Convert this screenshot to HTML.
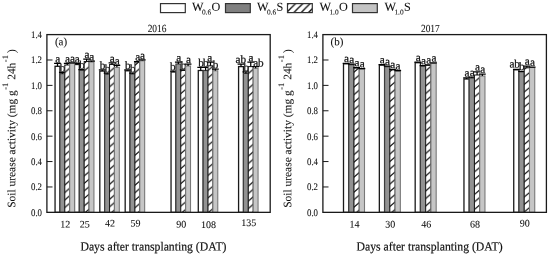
<!DOCTYPE html>
<html lang="en"><head><meta charset="utf-8"><title>Soil urease activity</title>
<style>html,body{margin:0;padding:0;background:#fff}svg{display:block}text{stroke:#111;stroke-width:.08px}text.b{stroke-width:.25px}text.m{stroke-width:.18px}</style></head>
<body>
<svg width="550" height="256" viewBox="0 0 550 256" font-family='"Liberation Serif", "DejaVu Serif", serif' fill="#111">
<defs><pattern id="hatchL" patternUnits="userSpaceOnUse" width="8.8" height="7.5" patternTransform="translate(0 0.2)"><rect width="8.8" height="7.5" fill="#fff"/><path d="M-2.20 9.38L11.00 -1.88M-2.20 1.88L2.20 -1.88M6.60 9.38L11.00 5.62" stroke="#000" stroke-width="1.15"/></pattern></defs>
<defs><pattern id="hatchR" patternUnits="userSpaceOnUse" width="8.8" height="7.5" patternTransform="translate(0 -1.2)"><rect width="8.8" height="7.5" fill="#fff"/><path d="M-2.20 9.38L11.00 -1.88M-2.20 1.88L2.20 -1.88M6.60 9.38L11.00 5.62" stroke="#000" stroke-width="1.15"/></pattern></defs>
<rect width="550" height="256" fill="#fff"/>
<defs><pattern id="hatch2" patternUnits="userSpaceOnUse" width="7.3" height="7.3" patternTransform="translate(-0.2 0)"><rect width="7.3" height="7.3" fill="#fff"/><path d="M-1.8 9.1L9.1 -1.8M-1.8 1.8L1.8 -1.8M5.5 9.1L9.1 5.5" stroke="#111" stroke-width="1.3"/></pattern></defs>
<rect x="160.5" y="3.6" width="24.8" height="9" fill="#fff" stroke="#333" stroke-width="1.2"/>
<text x="192" y="10.7" font-size="12.2" transform="rotate(0.03 192 10.7)">W<tspan font-size="7.4" dy="3.8" dx="-1.6">0.6</tspan><tspan dy="-3.8" dx="0.3">O</tspan></text>
<rect x="225.5" y="3.6" width="24.8" height="9" fill="#808080" stroke="#333" stroke-width="1.2"/>
<text x="257" y="10.7" font-size="12.2" transform="rotate(0.03 257 10.7)">W<tspan font-size="7.4" dy="3.8" dx="-1.6">0.6</tspan><tspan dy="-3.8" dx="0.3">S</tspan></text>
<rect x="287.5" y="3.6" width="24.8" height="9" fill="url(#hatch2)" stroke="#333" stroke-width="1.2"/>
<text x="319.5" y="10.7" font-size="12.2" transform="rotate(0.03 319.5 10.7)">W<tspan font-size="7.4" dy="3.8" dx="-1.6">1.0</tspan><tspan dy="-3.8" dx="0.3">O</tspan></text>
<rect x="352.5" y="3.6" width="24.8" height="9" fill="#c4c4c4" stroke="#333" stroke-width="1.2"/>
<text x="384.5" y="10.7" font-size="12.2" transform="rotate(0.03 384.5 10.7)">W<tspan font-size="7.4" dy="3.8" dx="-1.6">1.0</tspan><tspan dy="-3.8" dx="0.3">S</tspan></text>
<rect x="55.06" y="66.30" width="4.87" height="146.05" fill="#fff" stroke="#1a1a1a" stroke-width="1.3"/>
<path d="M57.49 66.30V63.40M54.09 63.40H60.89" stroke="#000" stroke-width="1.25" fill="none"/>
<text x="57.79" y="62.50" font-size="11.2" text-anchor="middle" transform="rotate(0.03 57.79 62.50)" class="b">a</text>
<rect x="74.46" y="64.50" width="4.87" height="147.85" fill="#fff" stroke="#1a1a1a" stroke-width="1.3"/>
<path d="M76.89 64.50V63.40M73.49 63.40H80.29" stroke="#000" stroke-width="1.25" fill="none"/>
<text x="77.19" y="62.50" font-size="11.2" text-anchor="middle" transform="rotate(0.03 77.19 62.50)" class="b">a</text>
<rect x="99.82" y="71.10" width="4.87" height="141.25" fill="#fff" stroke="#1a1a1a" stroke-width="1.3"/>
<path d="M102.26 71.10V69.80M98.86 69.80H105.66" stroke="#000" stroke-width="1.25" fill="none"/>
<text x="102.56" y="68.90" font-size="11.2" text-anchor="middle" transform="rotate(0.03 102.56 68.90)" class="b">b</text>
<rect x="125.18" y="70.80" width="4.87" height="141.55" fill="#fff" stroke="#1a1a1a" stroke-width="1.3"/>
<path d="M127.62 70.80V69.80M124.22 69.80H131.02" stroke="#000" stroke-width="1.25" fill="none"/>
<text x="127.92" y="68.90" font-size="11.2" text-anchor="middle" transform="rotate(0.03 127.92 68.90)" class="b">b</text>
<rect x="171.04" y="72.00" width="4.87" height="140.35" fill="#fff" stroke="#1a1a1a" stroke-width="1.3"/>
<path d="M173.47 72.00V71.10M170.07 71.10H176.87" stroke="#000" stroke-width="1.25" fill="none"/>
<text x="172.87" y="70.20" font-size="11.2" text-anchor="middle" transform="rotate(0.03 172.87 70.20)" class="b">b</text>
<rect x="198.29" y="70.50" width="4.87" height="141.85" fill="#fff" stroke="#1a1a1a" stroke-width="1.3"/>
<path d="M200.73 70.50V67.30M197.33 67.30H204.13" stroke="#000" stroke-width="1.25" fill="none"/>
<text x="201.03" y="66.40" font-size="11.2" text-anchor="middle" transform="rotate(0.03 201.03 66.40)" class="b">b</text>
<rect x="238.58" y="66.60" width="4.87" height="145.75" fill="#fff" stroke="#1a1a1a" stroke-width="1.3"/>
<path d="M241.01 66.60V64.00M237.61 64.00H244.41" stroke="#000" stroke-width="1.25" fill="none"/>
<text x="240.81" y="63.10" font-size="11.2" text-anchor="middle" transform="rotate(0.03 240.81 63.10)" class="b">ab</text>
<rect x="59.93" y="73.70" width="4.87" height="138.65" fill="#929292" stroke="#3e3e3e" stroke-width="1.15"/>
<path d="M62.36 73.70V72.40M58.96 72.40H65.77" stroke="#000" stroke-width="1.25" fill="none"/>
<text x="62.66" y="71.50" font-size="11.2" text-anchor="middle" transform="rotate(0.03 62.66 71.50)" class="b">b</text>
<rect x="79.33" y="70.20" width="4.87" height="142.15" fill="#929292" stroke="#3e3e3e" stroke-width="1.15"/>
<path d="M81.76 70.20V69.50M78.36 69.50H85.16" stroke="#000" stroke-width="1.25" fill="none"/>
<text x="82.06" y="68.60" font-size="11.2" text-anchor="middle" transform="rotate(0.03 82.06 68.60)" class="b">b</text>
<rect x="104.69" y="74.20" width="4.87" height="138.15" fill="#929292" stroke="#3e3e3e" stroke-width="1.15"/>
<path d="M107.13 74.20V73.10M103.73 73.10H110.53" stroke="#000" stroke-width="1.25" fill="none"/>
<text x="107.43" y="72.20" font-size="11.2" text-anchor="middle" transform="rotate(0.03 107.43 72.20)" class="b">b</text>
<rect x="130.05" y="74.00" width="4.87" height="138.35" fill="#929292" stroke="#3e3e3e" stroke-width="1.15"/>
<path d="M132.49 74.00V73.10M129.09 73.10H135.89" stroke="#000" stroke-width="1.25" fill="none"/>
<text x="132.79" y="72.20" font-size="11.2" text-anchor="middle" transform="rotate(0.03 132.79 72.20)" class="b">b</text>
<rect x="175.91" y="64.00" width="4.87" height="148.35" fill="#929292" stroke="#3e3e3e" stroke-width="1.15"/>
<path d="M178.34 64.00V62.10M174.94 62.10H181.74" stroke="#000" stroke-width="1.25" fill="none"/>
<text x="178.64" y="61.20" font-size="11.2" text-anchor="middle" transform="rotate(0.03 178.64 61.20)" class="b">a</text>
<rect x="203.16" y="70.50" width="4.87" height="141.85" fill="#929292" stroke="#3e3e3e" stroke-width="1.15"/>
<path d="M205.60 70.50V67.40M202.20 67.40H209.00" stroke="#000" stroke-width="1.25" fill="none"/>
<text x="205.90" y="66.50" font-size="11.2" text-anchor="middle" transform="rotate(0.03 205.90 66.50)" class="b">b</text>
<rect x="243.45" y="73.40" width="4.87" height="138.95" fill="#929292" stroke="#3e3e3e" stroke-width="1.15"/>
<path d="M245.88 73.40V71.80M242.48 71.80H249.28" stroke="#000" stroke-width="1.25" fill="none"/>
<text x="246.18" y="70.90" font-size="11.2" text-anchor="middle" transform="rotate(0.03 246.18 70.90)" class="b">b</text>
<rect x="64.80" y="65.00" width="4.87" height="147.35" fill="url(#hatchL)" stroke="#1a1a1a" stroke-width="1.0"/>
<path d="M67.23 65.00V63.40M63.84 63.40H70.64" stroke="#000" stroke-width="1.25" fill="none"/>
<text x="67.53" y="62.50" font-size="11.2" text-anchor="middle" transform="rotate(0.03 67.53 62.50)" class="b">a</text>
<rect x="84.20" y="61.50" width="4.87" height="150.85" fill="url(#hatchL)" stroke="#1a1a1a" stroke-width="1.0"/>
<path d="M86.63 61.50V59.00M83.23 59.00H90.03" stroke="#000" stroke-width="1.25" fill="none"/>
<text x="86.93" y="58.10" font-size="11.2" text-anchor="middle" transform="rotate(0.03 86.93 58.10)" class="b">a</text>
<rect x="109.56" y="64.50" width="4.87" height="147.85" fill="url(#hatchL)" stroke="#1a1a1a" stroke-width="1.0"/>
<path d="M112.00 64.50V62.80M108.59 62.80H115.40" stroke="#000" stroke-width="1.25" fill="none"/>
<text x="112.30" y="61.90" font-size="11.2" text-anchor="middle" transform="rotate(0.03 112.30 61.90)" class="b">a</text>
<rect x="134.92" y="62.00" width="4.87" height="150.35" fill="url(#hatchL)" stroke="#1a1a1a" stroke-width="1.0"/>
<path d="M137.36 62.00V61.50M133.96 61.50H140.76" stroke="#000" stroke-width="1.25" fill="none"/>
<text x="137.66" y="60.60" font-size="11.2" text-anchor="middle" transform="rotate(0.03 137.66 60.60)" class="b">a</text>
<rect x="180.78" y="70.50" width="4.87" height="141.85" fill="url(#hatchL)" stroke="#1a1a1a" stroke-width="1.0"/>
<path d="M183.21 70.50V69.80M179.81 69.80H186.61" stroke="#000" stroke-width="1.25" fill="none"/>
<text x="183.51" y="68.90" font-size="11.2" text-anchor="middle" transform="rotate(0.03 183.51 68.90)" class="b">b</text>
<rect x="208.03" y="65.80" width="4.87" height="146.55" fill="url(#hatchL)" stroke="#1a1a1a" stroke-width="1.0"/>
<path d="M210.47 65.80V62.10M207.07 62.10H213.87" stroke="#000" stroke-width="1.25" fill="none"/>
<text x="209.77" y="61.20" font-size="11.2" text-anchor="middle" transform="rotate(0.03 209.77 61.20)" class="b">a</text>
<rect x="248.32" y="66.60" width="4.87" height="145.75" fill="url(#hatchL)" stroke="#1a1a1a" stroke-width="1.0"/>
<path d="M250.75 66.60V62.10M247.35 62.10H254.15" stroke="#000" stroke-width="1.25" fill="none"/>
<text x="251.05" y="61.20" font-size="11.2" text-anchor="middle" transform="rotate(0.03 251.05 61.20)" class="b">a</text>
<rect x="69.67" y="63.30" width="4.87" height="149.05" fill="#c6c6c6" stroke="#787878" stroke-width="1.1"/>
<path d="M72.10 63.30V62.80M68.70 62.80H75.50" stroke="#000" stroke-width="1.25" fill="none"/>
<text x="72.40" y="61.90" font-size="11.2" text-anchor="middle" transform="rotate(0.03 72.40 61.90)" class="b">a</text>
<rect x="89.07" y="62.00" width="4.87" height="150.35" fill="#c6c6c6" stroke="#787878" stroke-width="1.1"/>
<path d="M91.50 62.00V61.20M88.10 61.20H94.90" stroke="#000" stroke-width="1.25" fill="none"/>
<text x="91.80" y="60.30" font-size="11.2" text-anchor="middle" transform="rotate(0.03 91.80 60.30)" class="b">a</text>
<rect x="114.43" y="67.30" width="4.87" height="145.05" fill="#c6c6c6" stroke="#787878" stroke-width="1.1"/>
<path d="M116.87 67.30V65.30M113.47 65.30H120.27" stroke="#000" stroke-width="1.25" fill="none"/>
<text x="117.17" y="64.40" font-size="11.2" text-anchor="middle" transform="rotate(0.03 117.17 64.40)" class="b">a</text>
<rect x="139.79" y="60.80" width="4.87" height="151.55" fill="#c6c6c6" stroke="#787878" stroke-width="1.1"/>
<path d="M142.23 60.80V59.90M138.83 59.90H145.63" stroke="#000" stroke-width="1.25" fill="none"/>
<text x="142.53" y="59.00" font-size="11.2" text-anchor="middle" transform="rotate(0.03 142.53 59.00)" class="b">a</text>
<rect x="185.65" y="66.00" width="4.87" height="146.35" fill="#c6c6c6" stroke="#787878" stroke-width="1.1"/>
<path d="M188.08 66.00V64.00M184.68 64.00H191.48" stroke="#000" stroke-width="1.25" fill="none"/>
<text x="188.38" y="63.10" font-size="11.2" text-anchor="middle" transform="rotate(0.03 188.38 63.10)" class="b">a</text>
<rect x="212.90" y="70.80" width="4.87" height="141.55" fill="#c6c6c6" stroke="#787878" stroke-width="1.1"/>
<path d="M215.34 70.80V69.20M211.94 69.20H218.74" stroke="#000" stroke-width="1.25" fill="none"/>
<text x="215.64" y="68.30" font-size="11.2" text-anchor="middle" transform="rotate(0.03 215.64 68.30)" class="b">b</text>
<rect x="253.19" y="68.30" width="4.87" height="144.05" fill="#c6c6c6" stroke="#787878" stroke-width="1.1"/>
<path d="M255.62 68.30V66.60M252.22 66.60H259.02" stroke="#000" stroke-width="1.25" fill="none"/>
<text x="258.42" y="66.50" font-size="11.2" text-anchor="middle" transform="rotate(0.03 258.42 66.50)" class="b">ab</text>
<text x="65.30" y="227.50" font-size="10" text-anchor="middle" transform="rotate(0.03 65.30 227.50)" >12</text>
<text x="84.70" y="227.50" font-size="10" text-anchor="middle" transform="rotate(0.03 84.70 227.50)" >25</text>
<text x="110.06" y="226.50" font-size="10" text-anchor="middle" transform="rotate(0.03 110.06 226.50)" >42</text>
<text x="135.42" y="226.50" font-size="10" text-anchor="middle" transform="rotate(0.03 135.42 226.50)" >59</text>
<text x="181.28" y="227.50" font-size="10" text-anchor="middle" transform="rotate(0.03 181.28 227.50)" >90</text>
<text x="208.53" y="228.00" font-size="10" text-anchor="middle" transform="rotate(0.03 208.53 228.00)" >108</text>
<text x="248.82" y="226.00" font-size="10" text-anchor="middle" transform="rotate(0.03 248.82 226.00)" >135</text>
<rect x="46.9" y="34.6" width="223.30" height="177.75" fill="none" stroke="#1a1a1a" stroke-width="1.3"/>
<text x="42.00" y="215.85" font-size="10" text-anchor="end" transform="rotate(0.03 42.00 215.85)" textLength="11" lengthAdjust="spacingAndGlyphs">0.0</text>
<path d="M46.9 186.96h5.6" stroke="#1a1a1a" stroke-width="1"/>
<text x="42.00" y="190.46" font-size="10" text-anchor="end" transform="rotate(0.03 42.00 190.46)" textLength="11" lengthAdjust="spacingAndGlyphs">0.2</text>
<path d="M46.9 161.56h5.6" stroke="#1a1a1a" stroke-width="1"/>
<text x="42.00" y="165.06" font-size="10" text-anchor="end" transform="rotate(0.03 42.00 165.06)" textLength="11" lengthAdjust="spacingAndGlyphs">0.4</text>
<path d="M46.9 136.17h5.6" stroke="#1a1a1a" stroke-width="1"/>
<text x="42.00" y="139.67" font-size="10" text-anchor="end" transform="rotate(0.03 42.00 139.67)" textLength="11" lengthAdjust="spacingAndGlyphs">0.6</text>
<path d="M46.9 110.78h5.6" stroke="#1a1a1a" stroke-width="1"/>
<text x="42.00" y="114.28" font-size="10" text-anchor="end" transform="rotate(0.03 42.00 114.28)" textLength="11" lengthAdjust="spacingAndGlyphs">0.8</text>
<path d="M46.9 85.39h5.6" stroke="#1a1a1a" stroke-width="1"/>
<text x="42.00" y="88.89" font-size="10" text-anchor="end" transform="rotate(0.03 42.00 88.89)" textLength="11" lengthAdjust="spacingAndGlyphs">1.0</text>
<path d="M46.9 59.99h5.6" stroke="#1a1a1a" stroke-width="1"/>
<text x="42.00" y="63.49" font-size="10" text-anchor="end" transform="rotate(0.03 42.00 63.49)" textLength="11" lengthAdjust="spacingAndGlyphs">1.2</text>
<text x="42.00" y="38.10" font-size="10" text-anchor="end" transform="rotate(0.03 42.00 38.10)" textLength="11" lengthAdjust="spacingAndGlyphs">1.4</text>
<text x="157.05" y="32.10" font-size="10.8" text-anchor="middle" transform="rotate(0.03 157.05 32.10)" textLength="18.8" lengthAdjust="spacingAndGlyphs">2016</text>
<text x="61.00" y="45.20" font-size="11" text-anchor="middle" transform="rotate(0.03 61.00 45.20)" >(a)</text>
<text x="153.45" y="250.50" font-size="12.4" text-anchor="middle" transform="rotate(0.03 153.45 250.50)" textLength="146" lengthAdjust="spacingAndGlyphs" class="m">Days after transplanting (DAT)</text>
<text transform="translate(15.20 207.8) rotate(-89.97)" font-size="11.45" text-anchor="start">Soil urease activity (mg g<tspan font-size="8.5" dy="-7.3" dx="0.5">-1</tspan><tspan dy="7.3"> 24h</tspan><tspan font-size="8.5" dy="-7.3" dx="0.5">-1</tspan><tspan dy="7.3" dx="2">)</tspan></text>
<rect x="343.50" y="63.80" width="5.25" height="148.55" fill="#fff" stroke="#1a1a1a" stroke-width="1.3"/>
<path d="M346.12 63.80V63.30M342.73 63.30H349.52" stroke="#000" stroke-width="1.25" fill="none"/>
<text x="346.43" y="62.00" font-size="11.2" text-anchor="middle" transform="rotate(0.03 346.43 62.00)" class="b">a</text>
<rect x="379.34" y="65.10" width="5.25" height="147.25" fill="#fff" stroke="#1a1a1a" stroke-width="1.3"/>
<path d="M381.97 65.10V64.60M378.57 64.60H385.37" stroke="#000" stroke-width="1.25" fill="none"/>
<text x="382.27" y="63.30" font-size="11.2" text-anchor="middle" transform="rotate(0.03 382.27 63.30)" class="b">a</text>
<rect x="415.18" y="62.70" width="5.25" height="149.65" fill="#fff" stroke="#1a1a1a" stroke-width="1.3"/>
<path d="M417.81 62.70V62.20M414.41 62.20H421.20" stroke="#000" stroke-width="1.25" fill="none"/>
<text x="418.11" y="60.90" font-size="11.2" text-anchor="middle" transform="rotate(0.03 418.11 60.90)" class="b">a</text>
<rect x="463.96" y="79.00" width="5.25" height="133.35" fill="#fff" stroke="#1a1a1a" stroke-width="1.3"/>
<path d="M466.59 79.00V77.90M463.19 77.90H469.99" stroke="#000" stroke-width="1.25" fill="none"/>
<text x="466.89" y="76.60" font-size="11.2" text-anchor="middle" transform="rotate(0.03 466.89 76.60)" class="b">a</text>
<rect x="513.74" y="69.80" width="5.25" height="142.55" fill="#fff" stroke="#1a1a1a" stroke-width="1.3"/>
<path d="M516.37 69.80V69.30M512.97 69.30H519.76" stroke="#000" stroke-width="1.25" fill="none"/>
<text x="514.66" y="67.50" font-size="11.2" text-anchor="middle" transform="rotate(0.03 514.66 67.50)" class="b">ab</text>
<rect x="348.75" y="64.70" width="5.25" height="147.65" fill="#929292" stroke="#3e3e3e" stroke-width="1.15"/>
<path d="M351.38 64.70V64.20M347.98 64.20H354.77" stroke="#000" stroke-width="1.25" fill="none"/>
<text x="351.68" y="62.90" font-size="11.2" text-anchor="middle" transform="rotate(0.03 351.68 62.90)" class="b">a</text>
<rect x="384.59" y="66.70" width="5.25" height="145.65" fill="#929292" stroke="#3e3e3e" stroke-width="1.15"/>
<path d="M387.22 66.70V66.20M383.82 66.20H390.62" stroke="#000" stroke-width="1.25" fill="none"/>
<text x="387.52" y="64.90" font-size="11.2" text-anchor="middle" transform="rotate(0.03 387.52 64.90)" class="b">a</text>
<rect x="420.43" y="66.00" width="5.25" height="146.35" fill="#929292" stroke="#3e3e3e" stroke-width="1.15"/>
<path d="M423.06 66.00V65.50M419.66 65.50H426.45" stroke="#000" stroke-width="1.25" fill="none"/>
<text x="423.36" y="64.20" font-size="11.2" text-anchor="middle" transform="rotate(0.03 423.36 64.20)" class="b">a</text>
<rect x="469.21" y="78.00" width="5.25" height="134.35" fill="#929292" stroke="#3e3e3e" stroke-width="1.15"/>
<path d="M471.84 78.00V77.20M468.44 77.20H475.24" stroke="#000" stroke-width="1.25" fill="none"/>
<text x="472.14" y="75.90" font-size="11.2" text-anchor="middle" transform="rotate(0.03 472.14 75.90)" class="b">a</text>
<rect x="518.99" y="71.80" width="5.25" height="140.55" fill="#929292" stroke="#3e3e3e" stroke-width="1.15"/>
<path d="M521.62 71.80V71.30M518.22 71.30H525.01" stroke="#000" stroke-width="1.25" fill="none"/>
<text x="521.91" y="70.00" font-size="11.2" text-anchor="middle" transform="rotate(0.03 521.91 70.00)" class="b">b</text>
<rect x="354.00" y="68.00" width="5.25" height="144.35" fill="url(#hatchR)" stroke="#1a1a1a" stroke-width="1.0"/>
<path d="M356.62 68.00V67.50M353.23 67.50H360.02" stroke="#000" stroke-width="1.25" fill="none"/>
<text x="356.93" y="66.20" font-size="11.2" text-anchor="middle" transform="rotate(0.03 356.93 66.20)" class="b">a</text>
<rect x="389.84" y="69.90" width="5.25" height="142.45" fill="url(#hatchR)" stroke="#1a1a1a" stroke-width="1.0"/>
<path d="M392.47 69.90V69.40M389.07 69.40H395.87" stroke="#000" stroke-width="1.25" fill="none"/>
<text x="392.77" y="68.10" font-size="11.2" text-anchor="middle" transform="rotate(0.03 392.77 68.10)" class="b">a</text>
<rect x="425.68" y="65.30" width="5.25" height="147.05" fill="url(#hatchR)" stroke="#1a1a1a" stroke-width="1.0"/>
<path d="M428.31 65.30V64.80M424.91 64.80H431.70" stroke="#000" stroke-width="1.25" fill="none"/>
<text x="428.61" y="63.50" font-size="11.2" text-anchor="middle" transform="rotate(0.03 428.61 63.50)" class="b">a</text>
<rect x="474.46" y="75.00" width="5.25" height="137.35" fill="url(#hatchR)" stroke="#1a1a1a" stroke-width="1.0"/>
<path d="M477.09 75.00V71.80M473.69 71.80H480.49" stroke="#000" stroke-width="1.25" fill="none"/>
<text x="477.39" y="70.50" font-size="11.2" text-anchor="middle" transform="rotate(0.03 477.39 70.50)" class="b">a</text>
<rect x="524.24" y="67.80" width="5.25" height="144.55" fill="url(#hatchR)" stroke="#1a1a1a" stroke-width="1.0"/>
<path d="M526.87 67.80V66.10M523.47 66.10H530.26" stroke="#000" stroke-width="1.25" fill="none"/>
<text x="527.16" y="64.80" font-size="11.2" text-anchor="middle" transform="rotate(0.03 527.16 64.80)" class="b">a</text>
<rect x="359.25" y="69.00" width="5.25" height="143.35" fill="#c6c6c6" stroke="#787878" stroke-width="1.1"/>
<path d="M361.88 69.00V68.50M358.48 68.50H365.27" stroke="#000" stroke-width="1.25" fill="none"/>
<text x="362.18" y="67.20" font-size="11.2" text-anchor="middle" transform="rotate(0.03 362.18 67.20)" class="b">a</text>
<rect x="395.09" y="71.20" width="5.25" height="141.15" fill="#c6c6c6" stroke="#787878" stroke-width="1.1"/>
<path d="M397.72 71.20V70.70M394.32 70.70H401.12" stroke="#000" stroke-width="1.25" fill="none"/>
<text x="398.02" y="69.40" font-size="11.2" text-anchor="middle" transform="rotate(0.03 398.02 69.40)" class="b">a</text>
<rect x="430.93" y="63.40" width="5.25" height="148.95" fill="#c6c6c6" stroke="#787878" stroke-width="1.1"/>
<path d="M433.56 63.40V62.90M430.16 62.90H436.95" stroke="#000" stroke-width="1.25" fill="none"/>
<text x="433.86" y="61.60" font-size="11.2" text-anchor="middle" transform="rotate(0.03 433.86 61.60)" class="b">a</text>
<rect x="479.71" y="76.00" width="5.25" height="136.35" fill="#c6c6c6" stroke="#787878" stroke-width="1.1"/>
<path d="M482.34 76.00V74.10M478.94 74.10H485.74" stroke="#000" stroke-width="1.25" fill="none"/>
<text x="482.64" y="72.80" font-size="11.2" text-anchor="middle" transform="rotate(0.03 482.64 72.80)" class="b">a</text>
<rect x="529.49" y="67.50" width="5.25" height="144.85" fill="#c6c6c6" stroke="#787878" stroke-width="1.1"/>
<path d="M532.12 67.50V67.00M528.72 67.00H535.51" stroke="#000" stroke-width="1.25" fill="none"/>
<text x="532.41" y="65.70" font-size="11.2" text-anchor="middle" transform="rotate(0.03 532.41 65.70)" class="b">a</text>
<text x="354.50" y="227.50" font-size="10" text-anchor="middle" transform="rotate(0.03 354.50 227.50)" >14</text>
<text x="390.34" y="227.50" font-size="10" text-anchor="middle" transform="rotate(0.03 390.34 227.50)" >30</text>
<text x="426.18" y="227.50" font-size="10" text-anchor="middle" transform="rotate(0.03 426.18 227.50)" >46</text>
<text x="474.96" y="227.50" font-size="10" text-anchor="middle" transform="rotate(0.03 474.96 227.50)" >68</text>
<text x="524.74" y="226.50" font-size="10" text-anchor="middle" transform="rotate(0.03 524.74 226.50)" >90</text>
<rect x="322.9" y="34.6" width="223.50" height="177.75" fill="none" stroke="#1a1a1a" stroke-width="1.3"/>
<text x="318.00" y="215.85" font-size="10" text-anchor="end" transform="rotate(0.03 318.00 215.85)" textLength="11" lengthAdjust="spacingAndGlyphs">0.0</text>
<path d="M322.9 186.96h5.6" stroke="#1a1a1a" stroke-width="1"/>
<text x="318.00" y="190.46" font-size="10" text-anchor="end" transform="rotate(0.03 318.00 190.46)" textLength="11" lengthAdjust="spacingAndGlyphs">0.2</text>
<path d="M322.9 161.56h5.6" stroke="#1a1a1a" stroke-width="1"/>
<text x="318.00" y="165.06" font-size="10" text-anchor="end" transform="rotate(0.03 318.00 165.06)" textLength="11" lengthAdjust="spacingAndGlyphs">0.4</text>
<path d="M322.9 136.17h5.6" stroke="#1a1a1a" stroke-width="1"/>
<text x="318.00" y="139.67" font-size="10" text-anchor="end" transform="rotate(0.03 318.00 139.67)" textLength="11" lengthAdjust="spacingAndGlyphs">0.6</text>
<path d="M322.9 110.78h5.6" stroke="#1a1a1a" stroke-width="1"/>
<text x="318.00" y="114.28" font-size="10" text-anchor="end" transform="rotate(0.03 318.00 114.28)" textLength="11" lengthAdjust="spacingAndGlyphs">0.8</text>
<path d="M322.9 85.39h5.6" stroke="#1a1a1a" stroke-width="1"/>
<text x="318.00" y="88.89" font-size="10" text-anchor="end" transform="rotate(0.03 318.00 88.89)" textLength="11" lengthAdjust="spacingAndGlyphs">1.0</text>
<path d="M322.9 59.99h5.6" stroke="#1a1a1a" stroke-width="1"/>
<text x="318.00" y="63.49" font-size="10" text-anchor="end" transform="rotate(0.03 318.00 63.49)" textLength="11" lengthAdjust="spacingAndGlyphs">1.2</text>
<text x="318.00" y="38.10" font-size="10" text-anchor="end" transform="rotate(0.03 318.00 38.10)" textLength="11" lengthAdjust="spacingAndGlyphs">1.4</text>
<text x="430.35" y="32.10" font-size="10.8" text-anchor="middle" transform="rotate(0.03 430.35 32.10)" textLength="18.8" lengthAdjust="spacingAndGlyphs">2017</text>
<text x="337.00" y="45.20" font-size="11" text-anchor="middle" transform="rotate(0.03 337.00 45.20)" >(b)</text>
<text x="429.55" y="250.50" font-size="12.4" text-anchor="middle" transform="rotate(0.03 429.55 250.50)" textLength="146" lengthAdjust="spacingAndGlyphs" class="m">Days after transplanting (DAT)</text>
<text transform="translate(291.20 207.8) rotate(-89.97)" font-size="11.45" text-anchor="start">Soil urease activity (mg g<tspan font-size="8.5" dy="-7.3" dx="0.5">-1</tspan><tspan dy="7.3"> 24h</tspan><tspan font-size="8.5" dy="-7.3" dx="0.5">-1</tspan><tspan dy="7.3" dx="2">)</tspan></text>
</svg>
</body></html>
